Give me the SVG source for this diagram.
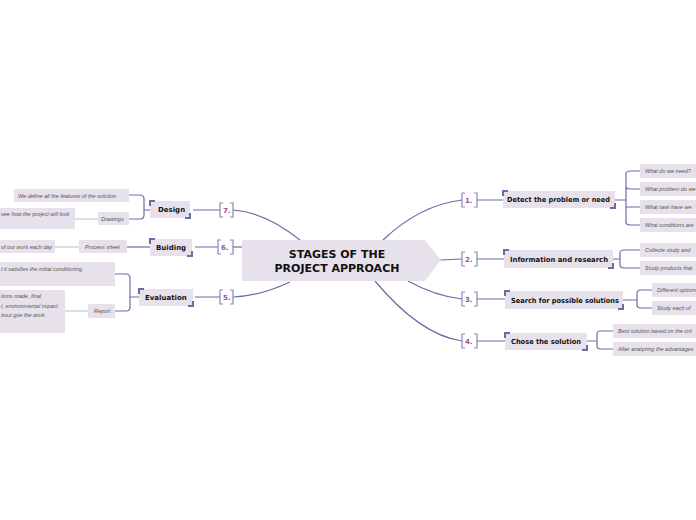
<svg xmlns="http://www.w3.org/2000/svg" width="696" height="520" viewBox="0 0 696 520">
<style>
.box{fill:#e7e1ec}
.ln{fill:none;stroke:#6d6ca6;stroke-width:1.2}
.lt{fill:none;stroke:#c9c6dc;stroke-width:1.2}
.br{fill:none;stroke:#8a88b8;stroke-width:1.2}
.st{font-family:"DejaVu Sans",sans-serif;font-weight:bold;font-size:7px;fill:#111}
.lf{font-family:"Liberation Sans",sans-serif;font-style:italic;font-size:5.5px;fill:#555}
.num{font-family:"DejaVu Sans",sans-serif;font-weight:bold;font-size:7px;fill:#9b4e9b}
.ct{font-family:"DejaVu Sans",sans-serif;font-weight:bold;font-size:11px;fill:#111;text-anchor:middle}
.cor{fill:none;stroke:#6d6ca6;stroke-width:2}
</style>
<g id="connectors">
<path class="ln" d="M383,240 Q420,205 462,200"/>
<path class="ln" d="M440,260 L462,259"/>
<path class="ln" d="M408,281 Q435,296 462,299"/>
<path class="ln" d="M375,281 Q420,335 462,341"/>
<path class="ln" d="M300,240 Q265,212 233,210"/>
<path class="ln" d="M242,247 L233,247"/>
<path class="ln" d="M290,282 Q260,296 233,297"/>
<path class="ln" d="M477,200 H503 M477,259 H504 M477,299 H505 M477,341 H505"/>
<path class="ln" d="M220,210 H193 M218,247 H195 M220,297 H195"/>
<path class="ln" d="M615,200 H626 V174 Q626,171 630,171 H640 M626,186 Q626,189 630,189 H640 M626,200 V222 Q626,225 630,225 H640 M626,207 H640"/>
<path class="ln" d="M613,259 H620 V253 Q620,250 624,250 H640 M620,259 V265 Q620,268 624,268 H640"/>
<path class="ln" d="M623,300 H637 V293 Q637,290 641,290 H652 M637,300 V305 Q637,308 641,308 H652"/>
<path class="ln" d="M587,341 H597 V334 Q597,331 601,331 H613 M597,341 V346 Q597,349 601,349 H613"/>
<path class="ln" d="M150,210 H144 V199 Q144,195 140,195 H129 M144,210 V215 Q144,219 140,219 H129"/>
<path class="lt" d="M98,219 H75"/>
<path class="ln" d="M150,247 H127"/>
<path class="lt" d="M79,247 H55"/>
<path class="ln" d="M139,297 H130 V278 Q130,274 126,274 H115 M130,297 V307 Q130,311 126,311 H115"/>
<path class="lt" d="M88,311 H65"/>
</g>
<g id="center">
<polygon class="box" points="242,240 425,240 441,260 425,281 242,281"/>
<text class="ct" x="337" y="258">STAGES OF THE</text>
<text class="ct" x="337" y="272">PROJECT APPROACH</text>
</g>
<g id="n1"><path class="br" d="M465,193 H462 V207 H465 M474,193 H477 V207 H474"/><text class="num" x="465" y="203">1.</text>
<rect class="box" x="503" y="191" width="112" height="17"/><path class="cor" d="M503,196 V191 H508 M615,203 V208 H610"/><text class="st" x="507" y="202" textLength="103" lengthAdjust="spacingAndGlyphs">Detect the problem or need</text></g>
<g id="n2"><path class="br" d="M465,252 H462 V266 H465 M474,252 H477 V266 H474"/><text class="num" x="465" y="262">2.</text>
<rect class="box" x="504" y="250" width="109" height="18"/><path class="cor" d="M504,255 V250 H509 M613,263 V268 H608"/><text class="st" x="510" y="262" textLength="98" lengthAdjust="spacingAndGlyphs">Information and research</text></g>
<g id="n3"><path class="br" d="M465,292 H462 V306 H465 M474,292 H477 V306 H474"/><text class="num" x="465" y="302">3.</text>
<rect class="box" x="505" y="291" width="118" height="18"/><path class="cor" d="M505,296 V291 H510 M623,304 V309 H618"/><text class="st" x="511" y="303" textLength="108" lengthAdjust="spacingAndGlyphs">Search for possible solutions</text></g>
<g id="n4"><path class="br" d="M465,334 H462 V348 H465 M474,334 H477 V348 H474"/><text class="num" x="465" y="344">4.</text>
<rect class="box" x="505" y="333" width="82" height="17"/><path class="cor" d="M505,338 V333 H510 M587,345 V350 H582"/><text class="st" x="511" y="344" textLength="70" lengthAdjust="spacingAndGlyphs">Chose the solution</text></g>
<g id="leaves1">
<rect class="box" x="640" y="164" width="56" height="14"/><text class="lf" x="645" y="173">What do we need?</text>
<rect class="box" x="640" y="182" width="56" height="14"/><text class="lf" x="645" y="191">What problem do we</text>
<rect class="box" x="640" y="200" width="56" height="14"/><text class="lf" x="645" y="209">What task have we</text>
<rect class="box" x="640" y="218" width="56" height="14"/><text class="lf" x="645" y="227">What conditions are</text>
<rect class="box" x="640" y="243" width="56" height="14"/><text class="lf" x="645" y="252">Collecte study and</text>
<rect class="box" x="640" y="261" width="56" height="14"/><text class="lf" x="645" y="270">Study products that</text>
<rect class="box" x="652" y="283" width="44" height="14"/><text class="lf" x="657" y="292">Different options</text>
<rect class="box" x="652" y="301" width="44" height="14"/><text class="lf" x="657" y="310">Study each of</text>
<rect class="box" x="613" y="324" width="83" height="14"/><text class="lf" x="618" y="333">Best solution based on the crit</text>
<rect class="box" x="613" y="342" width="83" height="14"/><text class="lf" x="618" y="351">After analyzing the advantages</text>
</g>
<g id="n7"><path class="br" d="M223,203 H220 V217 H223 M230,203 H233 V217 H230"/><text class="num" x="223" y="213">7.</text>
<rect class="box" x="150" y="201" width="40" height="17"/><path class="cor" d="M150,206 V201 H155 M190,213 V218 H185"/><text class="st" x="158" y="212">Design</text></g>
<g id="n6"><path class="br" d="M221,240 H218 V254 H221 M230,240 H233 V254 H230"/><text class="num" x="221" y="250">6.</text>
<rect class="box" x="150" y="239" width="42" height="17"/><path class="cor" d="M150,244 V239 H155 M192,251 V256 H187"/><text class="st" x="156" y="250">Buiding</text></g>
<g id="n5"><path class="br" d="M223,290 H220 V304 H223 M230,290 H233 V304 H230"/><text class="num" x="223" y="300">5.</text>
<rect class="box" x="139" y="289" width="54" height="17"/><path class="cor" d="M139,294 V289 H144 M193,301 V306 H188"/><text class="st" x="145" y="300">Evaluation</text></g>
<g id="leaves2">
<rect class="box" x="14" y="189" width="115" height="13"/><text class="lf" x="18" y="198">We define all the features of the solution</text>
<rect class="box" x="98" y="212" width="31" height="13"/><text class="lf" x="101" y="221">Drawings</text>
<rect class="box" x="0" y="208" width="75" height="21"/><text class="lf" x="1" y="216">see how the project will look</text>
<rect class="box" x="79" y="240" width="48" height="13"/><text class="lf" x="85" y="249">Process sheet</text>
<rect class="box" x="0" y="240" width="55" height="13"/><text class="lf" x="1" y="249">of our work each day</text>
<rect class="box" x="0" y="262" width="115" height="24"/><text class="lf" x="1" y="271">t it satisfies the initial conditioning</text>
<rect class="box" x="88" y="304" width="27" height="14"/><text class="lf" x="94" y="313">Report</text>
<rect class="box" x="0" y="290" width="65" height="43"/><text class="lf" x="1" y="298">tions made, final</text><text class="lf" x="1" y="308">t, environmental impact</text><text class="lf" x="1" y="317">bout goe the work</text>
</g>
</svg>
